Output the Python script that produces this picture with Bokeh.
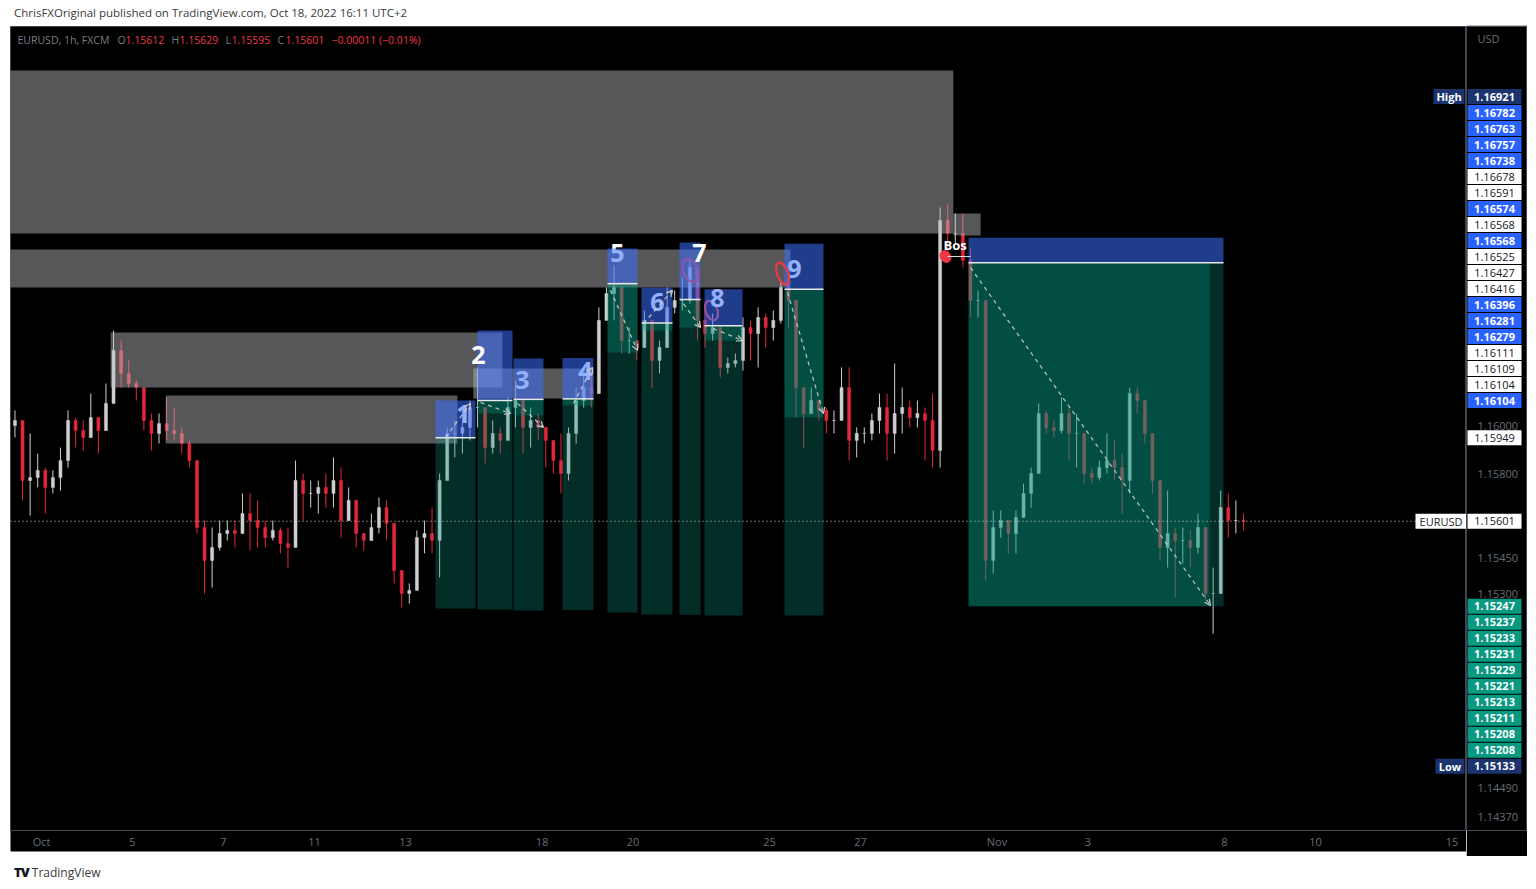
from bokeh.plotting import figure
from bokeh.models import Range1d, FixedTicker, Span, Arrow, OpenHead, ColumnDataSource, Div
from bokeh.layouts import column, row
from bokeh.embed import file_html
from bokeh.resources import INLINE
from bokeh.core.properties import value

# ---------------- data (EURUSD, 4h bars) ----------------
first_open = 1.16000
bar_high = [1.16063, 1.15979, 1.15967, 1.15883, 1.15825, 1.15813, 1.15908, 1.16063, 1.16033, 1.16021,
            1.16133, 1.15992, 1.16175, 1.16396, 1.16354, 1.16271, 1.16188, 1.16133, 1.16050, 1.16050,
            1.16117, 1.16075, 1.15992, 1.15938, 1.15854, 1.15604, 1.15575, 1.15604, 1.15604, 1.15604,
            1.15717, 1.15717, 1.15688, 1.15604, 1.15604, 1.15575, 1.15575, 1.15854, 1.15800, 1.15771,
            1.15771, 1.15800, 1.15867, 1.15825, 1.15742, 1.15633, 1.15550, 1.15633, 1.15700, 1.15688,
            1.15492, 1.15354, 1.15342, 1.15563, 1.15604, 1.15658, 1.15800, 1.15992, 1.16021, 1.16075,
            1.16104, 1.16242, 1.16075, 1.16021, 1.15992, 1.16117, 1.16188, 1.16075, 1.16075, 1.16050,
            1.15992, 1.15938, 1.15967, 1.15992, 1.16158, 1.16242, 1.16242, 1.16492, 1.16575, 1.16667,
            1.16575, 1.16408, 1.16354, 1.16479, 1.16408, 1.16354, 1.16575, 1.16563, 1.16617, 1.16688,
            1.16563, 1.16492, 1.16467, 1.16354, 1.16283, 1.16300, 1.16450, 1.16438, 1.16492, 1.16467,
            1.16479, 1.16604, 1.16633, 1.16467, 1.16158, 1.16158, 1.16104, 1.16075, 1.16063, 1.16242,
            1.16242, 1.15992, 1.15992, 1.16050, 1.16133, 1.16133, 1.16258, 1.16158, 1.16104, 1.16104,
            1.16075, 1.16133, 1.16908, 1.16921, 1.16883, 1.16883, 1.16742, 1.16563, 1.16479, 1.15646,
            1.15646, 1.15604, 1.15646, 1.15758, 1.15825, 1.16092, 1.16063, 1.16021, 1.16117, 1.16075,
            1.16050, 1.15842, 1.15825, 1.15854, 1.15967, 1.15938, 1.15883, 1.16158, 1.16158, 1.16063,
            1.15967, 1.15717, 1.15729, 1.15575, 1.15575, 1.15563, 1.15633, 1.15492, 1.15408, 1.15729,
            1.15717, 1.15688, 1.15633]
bar_low = [1.15950, 1.15688, 1.15625, 1.15742, 1.15633, 1.15717, 1.15729, 1.15825, 1.15908, 1.15896,
           1.15967, 1.15883, 1.15992, 1.16188, 1.16158, 1.16158, 1.16104, 1.15979, 1.15896, 1.15925,
           1.15938, 1.15938, 1.15883, 1.15825, 1.15550, 1.15300, 1.15325, 1.15479, 1.15521, 1.15492,
           1.15550, 1.15479, 1.15492, 1.15492, 1.15521, 1.15467, 1.15408, 1.15550, 1.15604, 1.15658,
           1.15633, 1.15658, 1.15658, 1.15533, 1.15604, 1.15492, 1.15479, 1.15521, 1.15550, 1.15521,
           1.15342, 1.15242, 1.15258, 1.15438, 1.15467, 1.15467, 1.15367, 1.15771, 1.15867, 1.15883,
           1.15938, 1.15992, 1.15842, 1.15883, 1.15883, 1.15992, 1.15992, 1.15883, 1.15908, 1.15938,
           1.15825, 1.15800, 1.15717, 1.15771, 1.15925, 1.16075, 1.16075, 1.16188, 1.16438, 1.16438,
           1.16300, 1.16300, 1.16271, 1.16325, 1.16158, 1.16217, 1.16325, 1.16467, 1.16479, 1.16508,
           1.16354, 1.16325, 1.16354, 1.16200, 1.16217, 1.16242, 1.16229, 1.16271, 1.16242, 1.16325,
           1.16354, 1.16425, 1.16408, 1.16033, 1.15908, 1.16050, 1.16021, 1.15967, 1.15967, 1.16050,
           1.15854, 1.15867, 1.15925, 1.15938, 1.15967, 1.15854, 1.15883, 1.15967, 1.15992, 1.15992,
           1.15854, 1.15825, 1.15825, 1.16700, 1.16758, 1.16658, 1.16450, 1.16450, 1.15354, 1.15383,
           1.15533, 1.15467, 1.15467, 1.15617, 1.15658, 1.15883, 1.15967, 1.15950, 1.15967, 1.15854,
           1.15825, 1.15758, 1.15758, 1.15771, 1.15800, 1.15771, 1.15633, 1.15717, 1.16050, 1.15925,
           1.15717, 1.15438, 1.15408, 1.15283, 1.15425, 1.15408, 1.15467, 1.15271, 1.15133, 1.15492,
           1.15533, 1.15550, 1.15563]
bar_close = [1.16021, 1.15771, 1.15783, 1.15813, 1.15742, 1.15783, 1.15854, 1.16021, 1.15979, 1.15950,
             1.16033, 1.15979, 1.16092, 1.16313, 1.16217, 1.16175, 1.16158, 1.16021, 1.15967, 1.16008,
             1.15979, 1.15967, 1.15925, 1.15854, 1.15575, 1.15438, 1.15492, 1.15550, 1.15563, 1.15550,
             1.15633, 1.15604, 1.15575, 1.15533, 1.15563, 1.15508, 1.15492, 1.15771, 1.15717, 1.15717,
             1.15742, 1.15717, 1.15771, 1.15604, 1.15688, 1.15550, 1.15521, 1.15575, 1.15658, 1.15592,
             1.15396, 1.15300, 1.15313, 1.15533, 1.15550, 1.15521, 1.15771, 1.15967, 1.15967, 1.15992,
             1.16075, 1.16075, 1.15908, 1.15967, 1.15938, 1.16075, 1.16104, 1.15992, 1.16021, 1.15992,
             1.15938, 1.15854, 1.15800, 1.15967, 1.16104, 1.16158, 1.16133, 1.16438, 1.16550, 1.16575,
             1.16354, 1.16354, 1.16325, 1.16438, 1.16271, 1.16325, 1.16492, 1.16521, 1.16521, 1.16658,
             1.16438, 1.16383, 1.16408, 1.16242, 1.16258, 1.16271, 1.16408, 1.16383, 1.16450, 1.16408,
             1.16438, 1.16575, 1.16521, 1.16158, 1.16050, 1.16104, 1.16063, 1.16021, 1.16021, 1.16158,
             1.15938, 1.15967, 1.15967, 1.16021, 1.16075, 1.15967, 1.16050, 1.16075, 1.16033, 1.16050,
             1.16021, 1.15896, 1.16854, 1.16800, 1.16800, 1.16688, 1.16521, 1.16521, 1.15438, 1.15575,
             1.15604, 1.15550, 1.15617, 1.15717, 1.15800, 1.16050, 1.15992, 1.15979, 1.16050, 1.15967,
             1.15967, 1.15800, 1.15783, 1.15825, 1.15854, 1.15825, 1.15771, 1.16133, 1.16104, 1.15967,
             1.15771, 1.15492, 1.15550, 1.15521, 1.15521, 1.15492, 1.15575, 1.15300, 1.15300, 1.15658,
             1.15604, 1.15604, 1.15601]
bar_t0 = -0.5833          # trading-day index of first bar centre (day 0 = "Oct")
bar_step = 1.0 / 6.0      # 4-hour bars
last_price = 1.15601

date_ticks = [0, 2, 4, 6, 8, 11, 13, 16, 18, 21, 23, 26, 28, 31]
date_labels = ["Oct", "5", "7", "11", "13", "18", "20", "25", "27", "Nov", "3", "8", "10", "15"]
price_ticks = [1.16000, 1.15800, 1.15450, 1.15300, 1.14490, 1.14370]

# supply zones (grey rectangles): time from/to (trading days), price top/bottom
zone_t0 = [-1.0, -1.0, 1.52, 2.73, 9.49, 20.04]
zone_t1 = [20.04, 16.46, 10.13, 9.14, 12.13, 20.64]
zone_top = [1.17479, 1.16733, 1.16388, 1.16125, 1.16238, 1.16883]
zone_bot = [1.16800, 1.16575, 1.16158, 1.15925, 1.16113, 1.16792]

# short-position tools
pos_t0 = [8.659, 9.582, 10.374, 11.451, 12.440, 13.187, 14.022, 14.571, 16.330, 20.374]
pos_t1 = [9.538, 10.352, 11.033, 12.132, 13.099, 13.868, 14.484, 15.407, 17.187, 25.978]
pos_stop = [1.16104, 1.16396, 1.16279, 1.16281, 1.16738, 1.16574, 1.16763, 1.16568, 1.16757, 1.16782]
pos_entry = [1.15949, 1.16104, 1.16109, 1.16111, 1.16591, 1.16427, 1.16525, 1.16416, 1.16568, 1.16678]
pos_target = [1.15237, 1.15233, 1.15229, 1.15231, 1.15221, 1.15213, 1.15211, 1.15208, 1.15208, 1.15247]
pos_reach_t = [9.538, 10.352, 11.033, 12.132, 13.099, 13.868, 14.484, 15.407, 17.187, 25.670]
pos_reach_p = [1.15949, 1.16050, 1.16042, 1.16083, 1.16304, 1.16396, 1.16408, 1.16354, 1.16033, 1.15247]

# dashed path arrows
arr_t0 = [8.879, 9.648, 10.462, 11.692, 12.505, 13.231, 14.110, 14.769, 16.396, 20.418]
arr_p0 = [1.15950, 1.16096, 1.16092, 1.16092, 1.16563, 1.16425, 1.16508, 1.16404, 1.16554, 1.16658]
arr_t1 = [9.429, 10.308, 11.033, 12.110, 13.099, 13.868, 14.484, 15.407, 17.187, 25.692]
arr_p1 = [1.16092, 1.16050, 1.15992, 1.16242, 1.16313, 1.16563, 1.16408, 1.16354, 1.16050, 1.15250]

# numbered labels
num_text = ["1", "2", "3", "4", "5", "6", "7", "8", "9"]
num_t = [9.275, 9.604, 10.571, 11.956, 12.659, 13.538, 14.462, 14.857, 16.549]
num_p = [1.16050, 1.16292, 1.16188, 1.16229, 1.16717, 1.16513, 1.16717, 1.16533, 1.16654]
num_on_top = [False, True, False, False, False, False, True, False, False]

# red rings
ring_t = [14.264, 14.725, 16.286]
ring_p = [1.16646, 1.16479, 1.16633]
bos_t, bos_p = 19.868, 1.16704
bos_line_t = [19.91, 20.42]

# price-scale labels
axis_top_vals = [1.16921, 1.16782, 1.16763, 1.16757, 1.16738, 1.16678, 1.16591, 1.16574, 1.16568, 1.16568,
                 1.16525, 1.16427, 1.16416, 1.16396, 1.16281, 1.16279, 1.16111, 1.16109, 1.16104, 1.16104]
axis_top_kind = ["hl", "stop", "stop", "stop", "stop", "entry", "entry", "stop", "entry", "stop",
                 "entry", "entry", "entry", "stop", "stop", "stop", "entry", "entry", "entry", "stop"]
axis_bot_vals = [1.15247, 1.15237, 1.15233, 1.15231, 1.15229, 1.15221, 1.15213, 1.15211, 1.15208, 1.15208, 1.15133]
axis_bot_kind = ["target"] * 10 + ["hl"]
axis_single_vals = [1.15949, last_price]
axis_single_kind = ["entry", "entry"]

# ---------------- layout constants ----------------
X0, X1 = -0.6813, 31.3187
Y0, Y1 = 1.143125, 1.176625
FRAME_W, FRAME_H = 1456, 804
PPX = (Y1 - Y0) / FRAME_H

def tx(px):
    return X0 + (px - 10) * (X1 - X0) / FRAME_W

def py(px):
    return Y1 - (px - 26) * PPX

BG = "#000000"
GRID = "#434651"
AXIS_TXT = "#6a6d78"
UP = "#cfcfcf"
DOWN = "#e3283c"
RED = "#f23645"
FONT = value("Open Sans")

p = figure(width=1466, height=831, x_range=Range1d(X0, X1), y_range=Range1d(Y0, Y1),
           output_backend="svg", toolbar_location=None, y_axis_location=None,
           background_fill_color=BG, border_fill_color="#ffffff", outline_line_color=GRID,
           min_border_left=10, min_border_right=0, min_border_top=1, min_border_bottom=26)
p.grid.visible = False
p.xaxis.ticker = FixedTicker(ticks=date_ticks)
p.xaxis.major_label_overrides = {t: l for t, l in zip(date_ticks, date_labels)}
p.xaxis.axis_line_color = GRID
p.xaxis.major_tick_line_color = None
p.xaxis.major_tick_out = 0
p.xaxis.major_tick_in = 0
p.xaxis.minor_tick_line_color = None
p.xaxis.major_label_text_color = AXIS_TXT
p.xaxis.major_label_text_font = "Open Sans"
p.xaxis.major_label_text_font_size = "11px"
p.xaxis.major_label_standoff = 3
p.xaxis.background_fill_color = BG

# ---- candles ----
bx, bo, bh, bl, bc, col = [], [], [], [], [], []
prev = first_open
for i, (h, l, c) in enumerate(zip(bar_high, bar_low, bar_close)):
    bx.append(bar_t0 + i * bar_step)
    bo.append(prev)
    bh.append(max(h, prev, c))
    bl.append(min(l, prev, c))
    bc.append(c)
    col.append(UP if c >= prev else DOWN)
    prev = c
src = ColumnDataSource(dict(x=bx, o=bo, h=bh, l=bl, c=bc, top=[max(a, b) for a, b in zip(bo, bc)],
                            bot=[min(a, b) for a, b in zip(bo, bc)], col=col))
p.segment(x0="x", x1="x", y0="l", y1="h", color="col", line_width=1, source=src)
p.vbar(x="x", width=bar_step * 0.4, top="top", bottom="bot", fill_color="col", line_color="col",
       line_width=0.5, source=src)

# ---- grey zones ----
p.quad(left=zone_t0, right=zone_t1, top=zone_top, bottom=zone_bot,
       fill_color="#c2c2c8", fill_alpha=0.45, line_color=None)

# rings under the blue boxes
p.ellipse(x=ring_t[:2], y=ring_p[:2], width=[0.33, 0.26], height=[0.0010, 0.00084], angle=0.35,
          fill_color=None, line_color=RED, line_width=2.2)

# numbers drawn below the boxes
under = [i for i, f in enumerate(num_on_top) if not f]
over = [i for i, f in enumerate(num_on_top) if f]
p.text(x=[num_t[i] for i in under], y=[num_p[i] for i in under], text=[num_text[i] for i in under],
       text_color="#ffffff", text_font=FONT, text_font_size="25px", text_font_style="bold",
       text_align="center", text_baseline="middle")
p.text(x=[tx(943)], y=[py(244)], text=["Bos"], text_color="#ffffff", text_font=FONT,
       text_font_size="13px", text_font_style="bold", text_align="left", text_baseline="middle")

# ---- position tools ----
p.quad(left=pos_t0, right=pos_t1, top=pos_entry, bottom=pos_target,
       fill_color="#089981", fill_alpha=0.3, line_color=None)
p.quad(left=pos_t0, right=pos_reach_t, top=pos_entry, bottom=pos_reach_p,
       fill_color="#089981", fill_alpha=0.3, line_color=None)
p.quad(left=pos_t0, right=pos_t1, top=pos_stop, bottom=pos_entry,
       fill_color="#3a70ff", fill_alpha=0.55, line_color=None)
p.segment(x0=pos_t0, x1=pos_t1, y0=pos_entry, y1=pos_entry, line_color="#e8e8e8", line_width=1.5)

p.ellipse(x=ring_t[2:], y=ring_p[2:], width=[0.24], height=[0.00096], angle=0.35,
          fill_color=None, line_color=RED, line_width=2.2)
p.ellipse(x=[bos_t], y=[bos_p], width=[0.22], height=[0.00052], angle=0.6,
          fill_color=RED, line_color=RED)
p.segment(x0=[bos_line_t[0]], x1=[bos_line_t[1]], y0=[bos_p], y1=[bos_p], line_color="#e0e0e0", line_width=1)

p.text(x=[num_t[i] for i in over], y=[num_p[i] for i in over], text=[num_text[i] for i in over],
       text_color="#ffffff", text_font=FONT, text_font_size="25px", text_font_style="bold",
       text_align="center", text_baseline="middle")

asrc = ColumnDataSource(dict(x0=arr_t0, y0=arr_p0, x1=arr_t1, y1=arr_p1))
p.add_layout(Arrow(end=OpenHead(size=6, line_color="#d0d0d0", line_width=1.2),
                   x_start="x0", y_start="y0", x_end="x1", y_end="y1", source=asrc,
                   line_color="#d0d0d0", line_alpha=0.85, line_width=1.3, line_dash="4 4"))

p.add_layout(Span(location=last_price, dimension="width", line_color="#d8d8d8",
                  line_dash="1 3", line_width=1))

# ---- legend line (symbol, OHLC) ----
hdr = [(17, "EURUSD, 1h, FXCM", "#7a7d86"), (117, "O", "#7a7d86"), (125, "1.15612", RED),
       (171, "H", "#7a7d86"), (179, "1.15629", RED), (225, "L", "#7a7d86"), (231, "1.15595", RED),
       (277, "C", "#7a7d86"), (285, "1.15601", RED), (331, "\u22120.00011 (\u22120.01%)", RED)]
p.text(x=[tx(h[0]) for h in hdr], y=[py(39)] * len(hdr), text=[h[1] for h in hdr],
       text_color=[h[2] for h in hdr], text_font=FONT, text_font_size="10.5px",
       text_align="left", text_baseline="middle")

# ---- stacked price-scale labels ----
def stack_up(vals):
    n = len(vals)
    return [vals[-1] + (n - 1 - i) * 16 * PPX for i in range(n)]

def stack_down(vals):
    return [vals[0] - i * 16 * PPX for i in range(len(vals))]

lab_vals = axis_top_vals + axis_bot_vals + axis_single_vals
lab_kind = axis_top_kind + axis_bot_kind + axis_single_kind
lab_y = stack_up(axis_top_vals) + stack_down(axis_bot_vals) + axis_single_vals
fill_of = {"hl": "#1b346e", "stop": "#2962ff", "entry": "#ffffff", "target": "#089981"}

# tags left of the scale (High / Low / EURUSD)
hi_y, lo_y = lab_y[0], lab_y[len(axis_top_vals) + len(axis_bot_vals) - 1]
p.rect(x=[tx(1448.5), tx(1449.5)], y=[hi_y, lo_y], width=[31, 29], height=15,
       width_units="screen", height_units="screen", fill_color="#1b346e", line_color=None)
p.text(x=[tx(1448.5), tx(1449.5)], y=[hi_y, lo_y], text=["High", "Low"], text_color="#ffffff",
       text_font=FONT, text_font_size="11px", text_font_style="bold",
       text_align="center", text_baseline="middle")
p.rect(x=[tx(1440.5)], y=[last_price], width=51, height=15, width_units="screen", height_units="screen",
       fill_color="#ffffff", line_color=None)
p.text(x=[tx(1440.5)], y=[last_price], text=["EURUSD"], text_color="#131722",
       text_font=FONT, text_font_size="11px", text_align="center", text_baseline="middle")

# ---------------- price scale panel ----------------
s = figure(width=61, height=831, x_range=Range1d(0, 60), y_range=p.y_range,
           output_backend="svg", toolbar_location=None, y_axis_location=None,
           background_fill_color=BG, border_fill_color=BG, outline_line_color=GRID,
           min_border_left=0, min_border_right=1, min_border_top=1, min_border_bottom=26)
s.grid.visible = False
s.xaxis.ticker = FixedTicker(ticks=[])
s.xaxis.axis_line_color = GRID
s.xaxis.major_tick_line_color = None
s.xaxis.major_tick_out = 0
s.xaxis.minor_tick_line_color = None
s.xaxis.major_label_text_font_size = "0px"
s.xaxis.background_fill_color = BG

s.text(x=[11], y=[py(38)], text=["USD"], text_color=AXIS_TXT, text_font=FONT, text_font_size="11px",
       text_align="left", text_baseline="middle")
s.text(x=[11] * len(price_ticks), y=price_ticks, text=["%.5f" % v for v in price_ticks],
       text_color=AXIS_TXT, text_font=FONT, text_font_size="11px",
       text_align="left", text_baseline="middle")

s.rect(x=[28] * len(lab_vals), y=lab_y, width=54, height=15, height_units="screen",
       fill_color=[fill_of[k] for k in lab_kind], line_color=None)
bold_i = [i for i, k in enumerate(lab_kind) if k != "entry"]
norm_i = [i for i, k in enumerate(lab_kind) if k == "entry"]
s.text(x=[28] * len(bold_i), y=[lab_y[i] for i in bold_i], text=["%.5f" % lab_vals[i] for i in bold_i],
       text_color="#ffffff", text_font=FONT, text_font_size="11px", text_font_style="bold",
       text_align="center", text_baseline="middle")
s.text(x=[28] * len(norm_i), y=[lab_y[i] for i in norm_i], text=["%.5f" % lab_vals[i] for i in norm_i],
       text_color="#131722", text_font=FONT, text_font_size="11px",
       text_align="center", text_baseline="middle")

header = Div(text="ChrisFXOriginal published on TradingView.com, Oct 18, 2022 16:11 UTC+2",
             width=1528, height=15,
             styles={"font-family": "Open Sans", "font-size": "11.5px", "color": "#3a3a3a",
                     "line-height": "15px", "padding-left": "9px", "white-space": "nowrap"})
footer = Div(text="<span style='font-weight:900;font-size:13px;letter-spacing:-1px;color:#131722'>TV</span>"
                  "&nbsp;TradingView",
             width=1528, height=25,
             styles={"font-family": "Open Sans", "font-size": "12px", "color": "#3a3a3a",
                     "line-height": "22px", "padding-left": "9px", "overflow": "hidden"})
chart = row(p, s)
layout = column(header, chart, footer)

with open("out.html", "w") as f:
    f.write(file_html(layout, INLINE, "EURUSD"))
